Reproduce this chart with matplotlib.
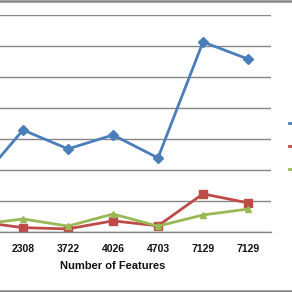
import matplotlib
matplotlib.use('Agg')
import matplotlib.pyplot as plt
from matplotlib.lines import Line2D
from matplotlib.patches import Rectangle

# categories (the first one is cut off at the left edge, its label is not visible)
features = ['', '2308', '3722', '4026', '4703', '7129', '7129']
series_a = [1.58, 3.29, 2.68, 3.13, 2.39, 6.13, 5.58]
series_b = [0.33, 0.14, 0.10, 0.36, 0.20, 1.23, 0.94]
series_c = [0.24, 0.42, 0.19, 0.58, 0.19, 0.55, 0.74]

BLUE = '#4A7EBB'
RED = '#BE4B48'
GREEN = '#98B954'
GRID = '#868686'

fig = plt.figure(figsize=(2.92, 2.92), dpi=100)
W = H = 292.0
# axes placed in pixels: category bins 45 px wide, last bin ends at 270
left, right = -44.5, 270.5
bottom, top = 232, 15
ax = fig.add_axes([left / W, 1 - bottom / H, (right - left) / W, (bottom - top) / H])

x = list(range(len(features)))
ax.plot(x, series_a, color=BLUE, lw=2.0, marker='D', ms=5)
ax.plot(x, series_b, color=RED, lw=2.0, marker='s', ms=6)
ax.plot(x, series_c, color=GREEN, lw=2.0, marker='^', ms=4.5)

ax.set_xlim(-0.5, len(features) - 0.5)
ax.set_ylim(0, 7)
ax.set_yticks(range(0, 8))
ax.yaxis.grid(True, color=GRID, lw=1.0)
ax.set_axisbelow(True)
ax.tick_params(axis='y', left=False, labelleft=False)
ax.tick_params(axis='x', bottom=False, pad=5)
ax.set_xticks(x[1:])
ax.set_xticklabels(features[1:], fontsize=7.5, fontweight='bold', color='#111111',
                   family='Liberation Sans')
ax.set_xlabel('Number of Features', fontsize=8, fontweight='bold', color='#111111',
              family='Liberation Sans', labelpad=5)
for side in ['top', 'right', 'left']:
    ax.spines[side].set_visible(False)
ax.spines['bottom'].set_color(GRID)
ax.spines['bottom'].set_linewidth(1.0)

# legend keys only (legend text lies outside the cropped picture)
handles = [Line2D([], [], color=c, lw=2.0) for c in (BLUE, RED, GREEN)]
fig.legend(handles, ['', '', ''], loc='upper left', bbox_to_anchor=(283 / W, 1 - 113 / H),
           frameon=False, handlelength=1.0, handletextpad=0, labelspacing=1.2,
           fontsize=8, borderpad=0)

# chart border
fig.add_artist(Rectangle((-0.05, 1.0 / H), 1.2, 1 - 2 / H, transform=fig.transFigure,
                         fill=False, edgecolor=GRID, lw=1.8))

fig.savefig('out.png', dpi=100)
